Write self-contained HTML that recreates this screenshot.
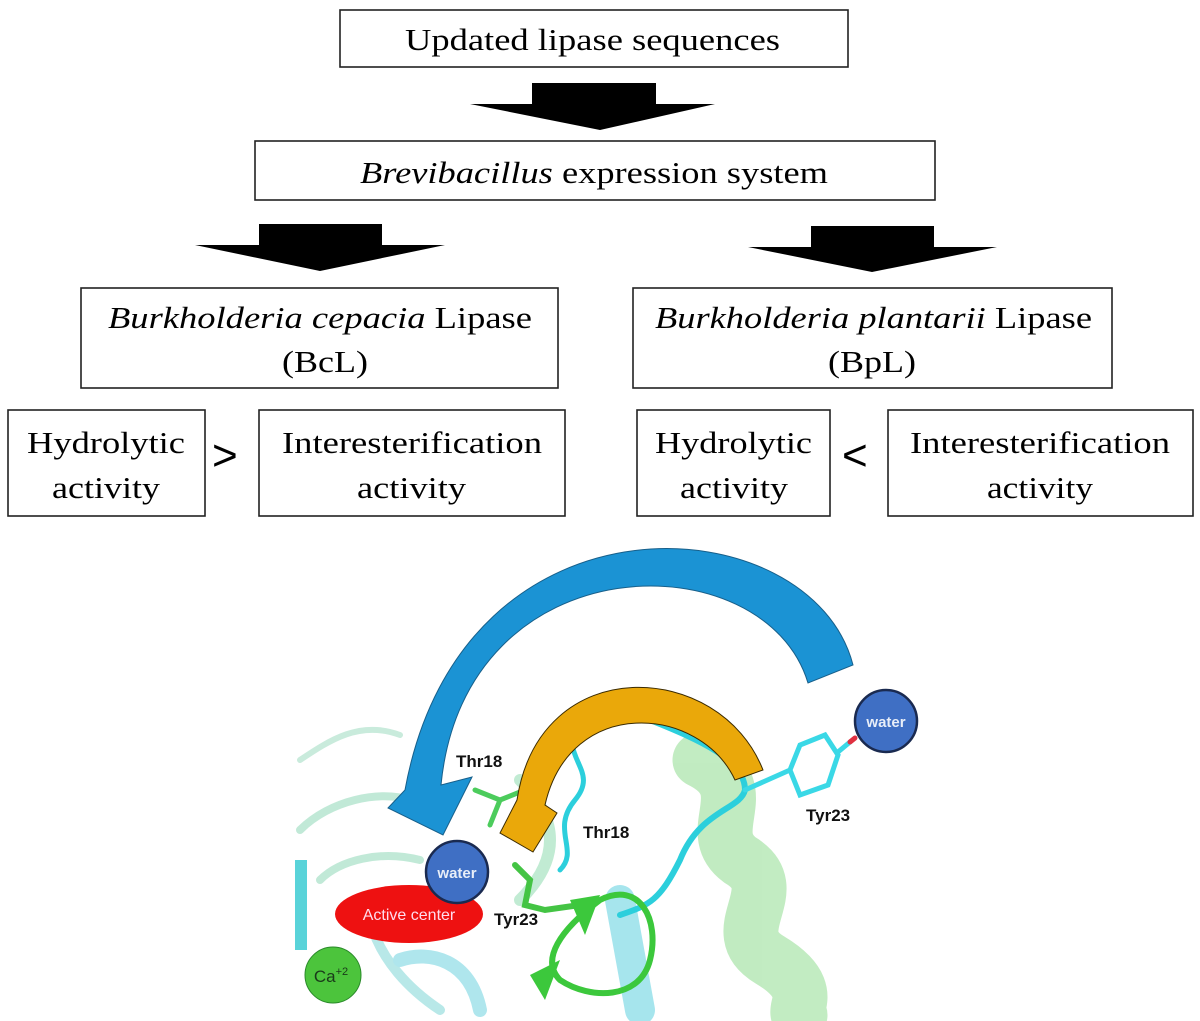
<!DOCTYPE html>
<html><head><meta charset="utf-8"><style>
html,body{margin:0;padding:0;background:#fff;}
svg{display:block}
.s{font-family:"Liberation Serif",serif;font-size:31px;fill:#000}
.a{font-family:"Liberation Sans",Arial,sans-serif;font-weight:bold;}
</style></head><body>
<svg width="1200" height="1021" viewBox="0 0 1200 1021" xmlns="http://www.w3.org/2000/svg">
<rect width="1200" height="1021" fill="#fff"/>
<g fill="#fff" stroke="#222" stroke-width="1.6">
<rect x="340" y="10" width="508" height="57"/>
<rect x="255" y="141" width="680" height="59"/>
<rect x="81" y="288" width="477" height="100"/>
<rect x="633" y="288" width="479" height="100"/>
<rect x="8" y="410" width="197" height="106"/>
<rect x="259" y="410" width="306" height="106"/>
<rect x="637" y="410" width="193" height="106"/>
<rect x="888" y="410" width="305" height="106"/>
</g>
<g fill="#000">
<polygon points="532,83 656,83 656,104 715,104 600,130 470,104 532,104"/>
<polygon points="259,224 382,224 382,245 445,245 320,271 195,245 259,245"/>
<polygon points="811,226 934,226 934,247 997,247 872,272 748,247 811,247"/>
</g>
<text class="s" x="405" y="50" textLength="375" lengthAdjust="spacingAndGlyphs">Updated lipase sequences</text>
<text class="s" x="360" y="183" textLength="468" lengthAdjust="spacingAndGlyphs"><tspan font-style="italic">Brevibacillus</tspan> expression system</text>
<text class="s" x="108" y="328" textLength="424" lengthAdjust="spacingAndGlyphs"><tspan font-style="italic">Burkholderia cepacia</tspan> Lipase</text>
<text class="s" x="282" y="372" textLength="86" lengthAdjust="spacingAndGlyphs">(BcL)</text>
<text class="s" x="655" y="328" textLength="437" lengthAdjust="spacingAndGlyphs"><tspan font-style="italic">Burkholderia plantarii</tspan> Lipase</text>
<text class="s" x="828" y="372" textLength="88" lengthAdjust="spacingAndGlyphs">(BpL)</text>
<text class="s" x="27" y="453" textLength="158" lengthAdjust="spacingAndGlyphs">Hydrolytic</text>
<text class="s" x="52" y="498" textLength="108" lengthAdjust="spacingAndGlyphs">activity</text>
<text class="s" x="282" y="453" textLength="260" lengthAdjust="spacingAndGlyphs">Interesterification</text>
<text class="s" x="357" y="498" textLength="109" lengthAdjust="spacingAndGlyphs">activity</text>
<text class="s" x="655" y="453" textLength="157" lengthAdjust="spacingAndGlyphs">Hydrolytic</text>
<text class="s" x="680" y="498" textLength="108" lengthAdjust="spacingAndGlyphs">activity</text>
<text class="s" x="910" y="453" textLength="260" lengthAdjust="spacingAndGlyphs">Interesterification</text>
<text class="s" x="987" y="498" textLength="106" lengthAdjust="spacingAndGlyphs">activity</text>
<text x="212" y="470" style="font-family:'Liberation Sans',sans-serif;font-size:44px">&gt;</text>
<text x="842" y="470" style="font-family:'Liberation Sans',sans-serif;font-size:44px">&lt;</text>

<g fill="none" stroke-linecap="round" opacity="0.55">
<path d="M700,760 C760,790 700,830 740,860 C790,890 720,930 770,960 C820,990 790,1010 800,1015" stroke="#8fdc8f" stroke-width="55"/>
<path d="M300,830 C330,800 380,790 410,800" stroke="#8fd8b8" stroke-width="8"/>
<path d="M320,880 C340,860 380,850 420,860" stroke="#8fd8b8" stroke-width="8"/>
<path d="M300,760 C330,740 360,720 400,735" stroke="#9ddbc0" stroke-width="6"/>
<path d="M370,920 C380,960 410,990 440,1010" stroke="#7fd6d6" stroke-width="10"/>
<path d="M400,960 C430,950 470,960 480,1010" stroke="#6fd3e0" stroke-width="14"/>
<path d="M520,780 C560,820 560,860 520,900" stroke="#8fdcb0" stroke-width="12"/>
<path d="M620,900 L640,1010" stroke="#5fd0e0" stroke-width="30"/>
</g>
<rect x="295" y="860" width="12" height="90" fill="#30c8d0" opacity="0.8"/>
<g fill="none" stroke-linecap="round">
<path d="M575,720 C560,760 600,770 575,800 C550,830 580,850 560,870" stroke="#2ccfdc" stroke-width="5"/>
<path d="M650,720 C700,740 745,760 745,790 C740,810 700,810 680,860 C660,900 650,905 620,915" stroke="#2ccfdc" stroke-width="6"/>
<path d="M745,790 L790,770 M790,770 L800,745 L825,735 L838,755 L828,785 L800,795 Z M838,752 L850,742" stroke="#3ad8e6" stroke-width="5"/>
<path d="M850,742 L855,738" stroke="#e03040" stroke-width="5"/>
<path d="M600,900 C640,880 660,920 650,960 C640,1000 590,1000 560,980 C540,960 560,930 600,900" stroke="#3cc83c" stroke-width="6"/>
<path d="M475,790 L500,800 L490,825 M500,800 L525,790" stroke="#4ccc5c" stroke-width="5"/>
<path d="M515,865 L530,880 L525,905 L545,910 L580,905" stroke="#44c444" stroke-width="6"/>
</g>
<polygon points="570,900 600,895 585,935" fill="#3cc83c"/>
<polygon points="530,975 560,960 545,1000" fill="#3cc83c"/>

<path d="M853,665 C812,505 462,478 405,790 L388,808 L443,835 L472,777 L441,785 C465,540 765,540 808,683 Z" fill="#1b93d4" stroke="#175f8a" stroke-width="1"/>
<path d="M763,770 C720,660 540,650 517,800 L500,833 L533,852 L557,813 L545,805 C570,695 700,705 735,780 Z" fill="#eaa80a" stroke="#3a2a00" stroke-width="1"/>

<circle cx="886" cy="721" r="31" fill="#3f6fc4" stroke="#1a2a50" stroke-width="2.5"/>
<text class="a" x="886" y="727" font-size="15" fill="#e8eef8" text-anchor="middle">water</text>
<ellipse cx="409" cy="914" rx="74" ry="29" fill="#ee1111"/>
<text x="409" y="920" font-size="16" fill="#fde" text-anchor="middle" style="font-family:'Liberation Sans',sans-serif">Active center</text>
<circle cx="457" cy="872" r="31" fill="#3f6fc4" stroke="#1a2a50" stroke-width="2.5"/>
<text class="a" x="457" y="878" font-size="15" fill="#e8eef8" text-anchor="middle">water</text>
<circle cx="333" cy="975" r="28" fill="#4cc43c" stroke="#2a8a2a" stroke-width="1"/>
<text x="331" y="982" font-size="17" fill="#1a3a1a" text-anchor="middle" style="font-family:'Liberation Sans',sans-serif">Ca<tspan font-size="11" dy="-7">+2</tspan></text>
<g class="a" font-size="17" fill="#111">
<text x="456" y="767">Thr18</text>
<text x="583" y="838">Thr18</text>
<text x="806" y="821">Tyr23</text>
<text x="494" y="925">Tyr23</text>
</g>
</svg>
</body></html>
